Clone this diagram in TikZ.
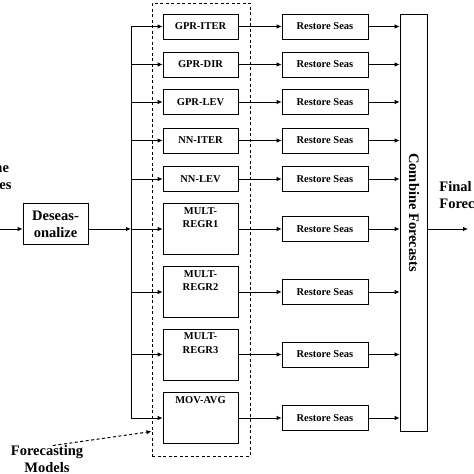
\documentclass[tikz,border=0pt]{standalone}
\usepackage{fontspec}
\setmainfont{Liberation Serif}
\usetikzlibrary{arrows.meta}
\begin{document}
\begin{tikzpicture}[x=1pt, y=-1pt, line width=0.8pt, >={Latex[length=5pt,width=4.5pt]},
    box/.style={draw, inner sep=0pt, align=center, font=\fontsize{10.5}{11}\selectfont\bfseries},
    model/.style={box, minimum width=75pt, minimum height=25pt},
    tallmodel/.style={model, minimum height=51pt},
    lbl/.style={anchor=north, yshift=-4pt, inner sep=0pt, align=center, font=\fontsize{10.5}{13.5}\selectfont\bfseries},
    restore/.style={box, minimum width=86pt, minimum height=25pt},
    big/.style={align=center, inner sep=0pt, font=\fontsize{14.5}{17}\selectfont\bfseries},
    dashedline/.style={dash pattern=on 3pt off 2.5pt, line width=1pt}]
  \useasboundingbox (0,0) rectangle (474,474);
  % input and deseasonalizing
  \node[big] (ts) at (-7,176.5) {Time\\Series};
  \node[box, big, draw, minimum width=65pt, minimum height=41pt] (des) at (55.5,224) {Deseas-\\onalize};
  \coordinate (in) at (-2,229);
  \coordinate (bus) at (131,229);
  \draw[->] (in) -- (in -| des.west);
  \draw[->] (des.east |- bus) -- (bus);
  % forecasting models
  \node[draw, dashedline, minimum width=98pt, minimum height=453pt, inner sep=0pt] (fm) at (201,229.5) {};
  \foreach \n/\y/\t in {1/26.5/GPR-ITER, 2/64.5/GPR-DIR, 3/102/GPR-LEV, 4/140.5/NN-ITER, 5/179/NN-LEV}
    \node[model, fill=white] (m\n) at (200.5,\y) {\t};
  \foreach \n/\y/\t in {6/229/{MULT-\\REGR1}, 7/292/{MULT-\\REGR2}, 8/354.5/{MULT-\\REGR3}, 9/418/{MOV-AVG}}
    \node[tallmodel, fill=white, label={[lbl]north:\t}] (m\n) at (200.5,\y) {};
  \draw (m1.west -| bus) -- (m9.west -| bus);
  % restore seasonality
  \foreach \n in {1,...,9}{
    \node[restore] (r\n) at (m\n -| 325,0) {Restore Seas};
    \draw[->] (m\n.west -| bus) -- (m\n.west);
    \draw[->] (m\n.east) -- (r\n.west);
  }
  % combination
  \node[draw, inner sep=0pt, minimum width=27pt, minimum height=417pt] (comb) at (413.5,222.5) {};
  \node[big, rotate=-90] (combt) at (414,212.5) {Combine Forecasts};
  \foreach \n in {1,...,9}
    \draw[->] (r\n.east) -- (r\n.east -| comb.west);
  \coordinate (out) at (468,229);
  \draw[->] (comb.east |- out) -- (out);
  \node[big, align=left, anchor=west] (fin) at (439,195.5) {Final\\Forecast};
  % label of the dashed group
  \node[big] (fml) at (47,459.5) {Forecasting\\Models};
  \draw[->, dashedline] ([xshift=6pt]fml.north) -- ([yshift=25pt]fm.south west);
\end{tikzpicture}
\end{document}
